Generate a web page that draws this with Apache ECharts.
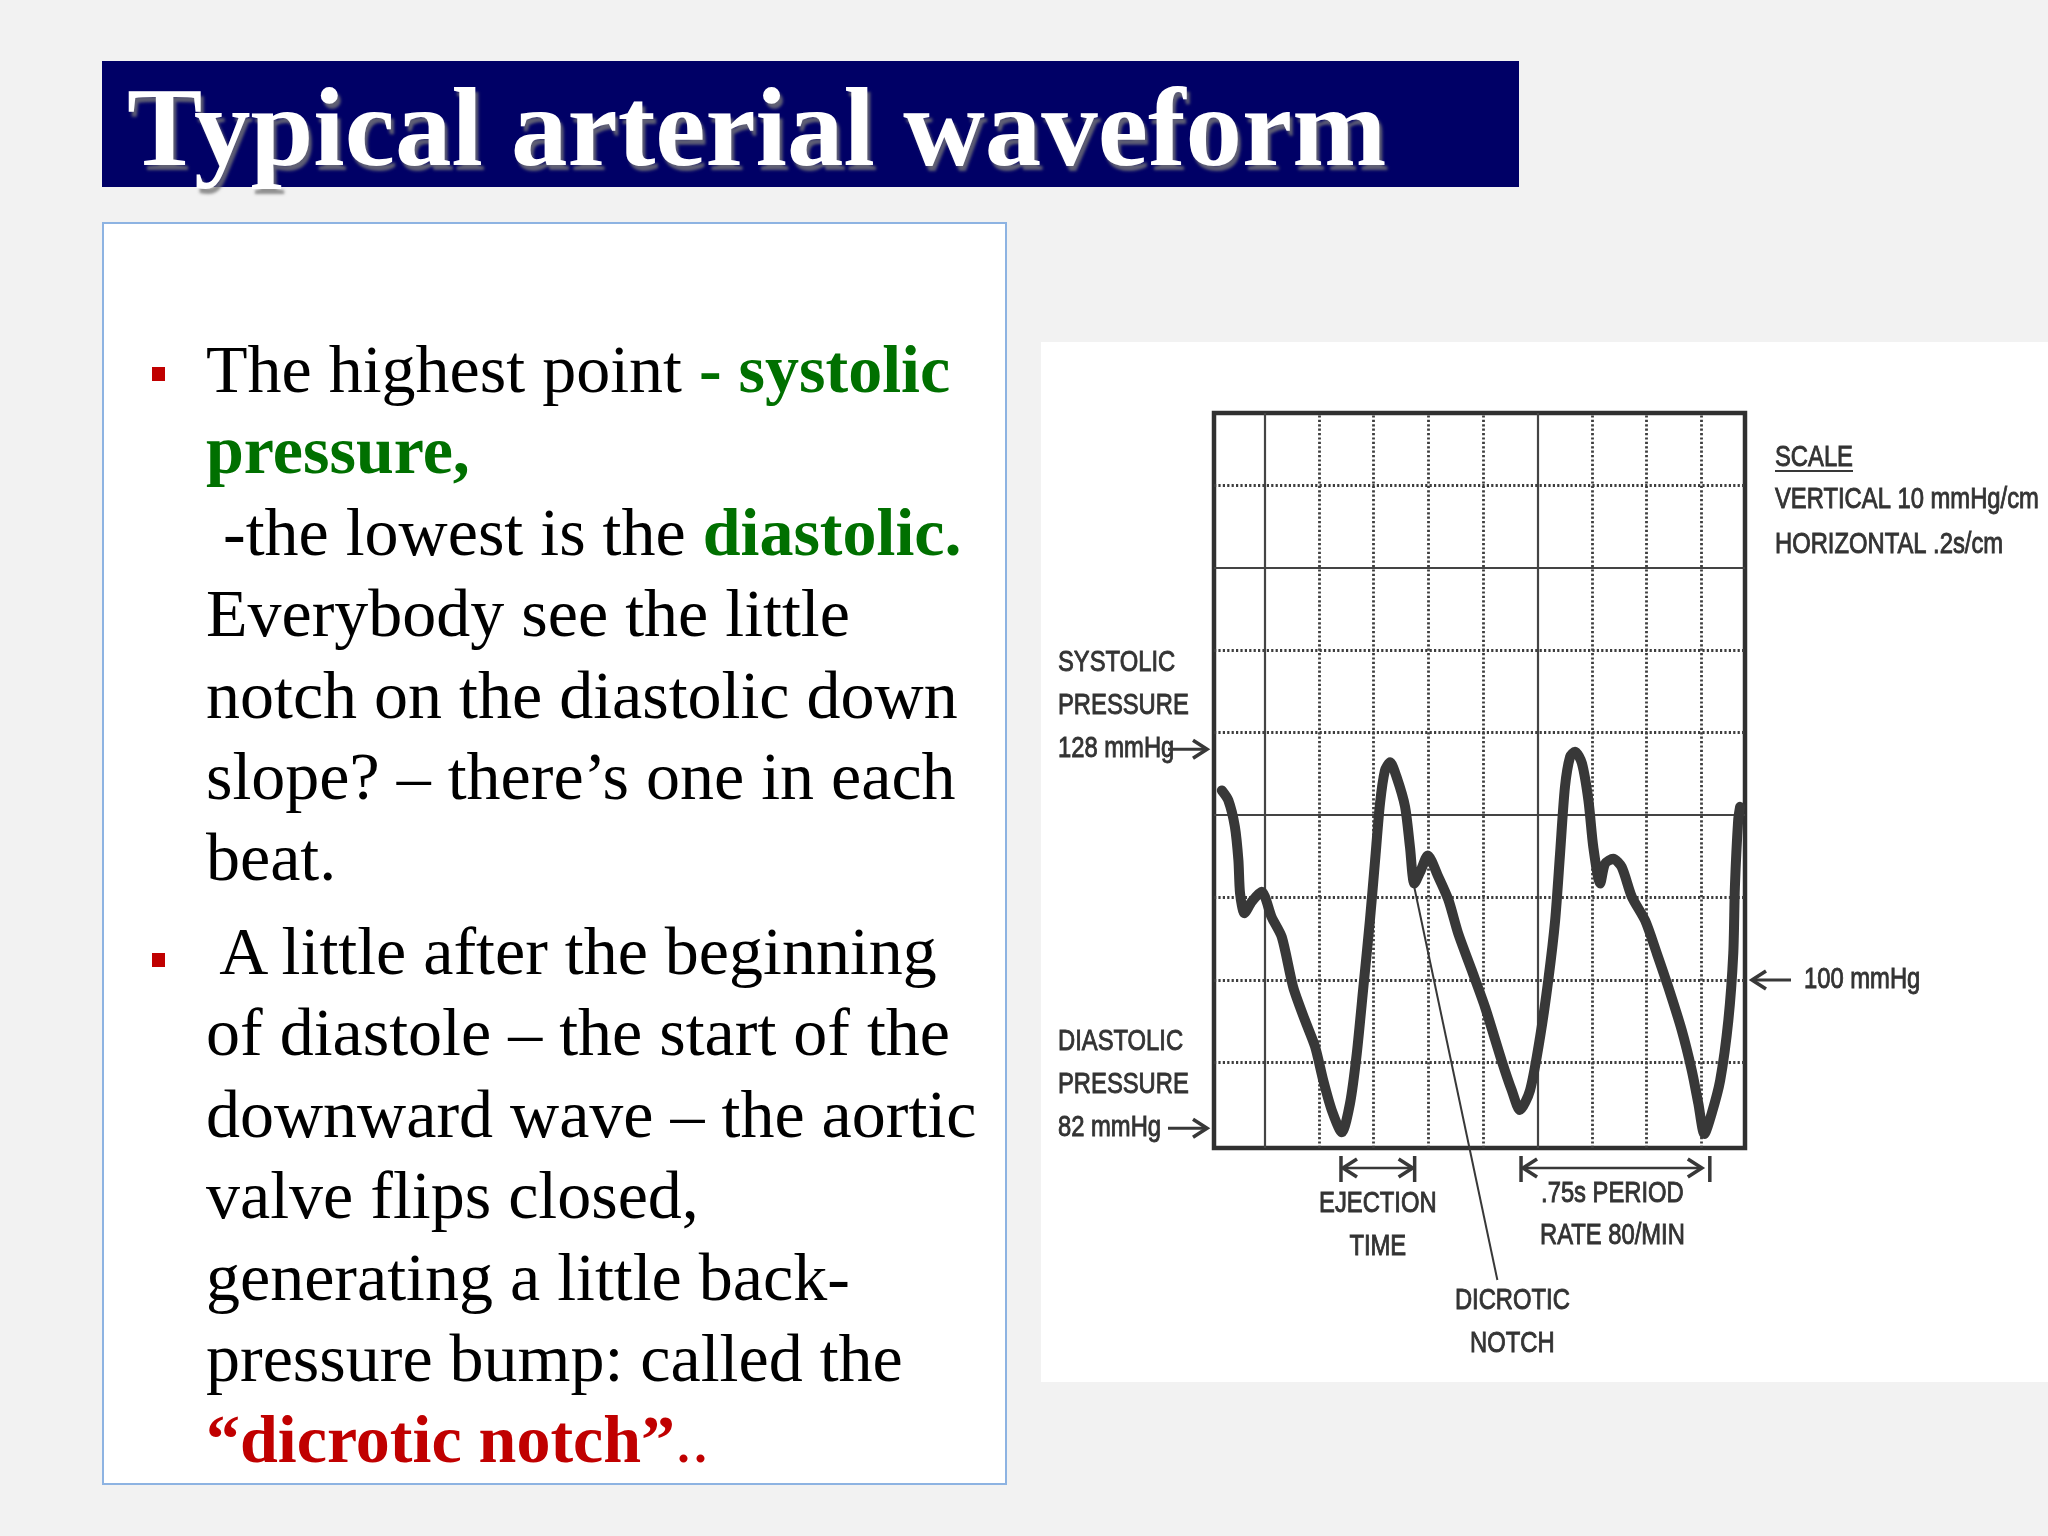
<!DOCTYPE html>
<html><head><meta charset="utf-8">
<script src="https://cdn.jsdelivr.net/npm/echarts@6/dist/echarts.min.js"></script>
<style>
html,body{margin:0;padding:0;background:#f2f2f2;}
#slide{position:relative;width:2048px;height:1536px;overflow:hidden;background:#f2f2f2;}
#titlebar{position:absolute;left:102px;top:61px;width:1417px;height:126px;background:#000066;}
#title{position:absolute;left:127px;top:70px;font-family:'Liberation Serif','Times New Roman',serif;font-weight:bold;font-size:113px;line-height:113px;color:#fff;white-space:pre;text-shadow:3px 5px 3px rgba(120,120,120,0.8);}
#textbox{position:absolute;left:102px;top:222px;width:905px;height:1263px;background:#fff;border:2px solid #8db3e2;box-sizing:border-box;}
.para{position:absolute;left:206px;font-family:'Liberation Serif','Times New Roman',serif;font-size:68px;line-height:81.4px;color:#000;white-space:pre;}
.g{color:#007000;font-weight:bold;}
.r{color:#c00000;font-weight:bold;}
.rd{color:#c00000;}
.bullet{position:absolute;left:152px;width:13px;height:14px;background:#c00000;}
#chart{position:absolute;left:1041px;top:342px;width:1007px;height:1040px;background:#fff;}
</style></head>
<body>
<div id="slide">
  <div id="titlebar"></div>
  <div id="title">Typical arterial waveform</div>
  <div id="textbox"></div>
  <div class="bullet" style="top:367px"></div>
  <div class="para" style="top:329px">The highest point <span class="g">- systolic</span>
<span class="g">pressure,</span>
 -the lowest is the <span class="g">diastolic.</span>
Everybody see the little
notch on the diastolic down
slope? – there’s one in each
beat.</div>
  <div class="bullet" style="top:953px"></div>
  <div class="para" style="top:911px"> A little after the beginning
of diastole – the start of the
downward wave – the aortic
valve flips closed,
generating a little back-
pressure bump: called the
<span class="r">“dicrotic notch”</span><span class="rd">..</span></div>
  <div id="chart"></div>
</div>
<script>
// ---- data ----
const timeS = [-0.157,-0.133,-0.109,-0.096,-0.090,-0.074,-0.047,-0.011,0.026,0.063,0.105,0.148,0.185,0.215,0.246,0.283,0.313,0.338,0.362,0.386,0.405,0.423,0.441,0.460,0.484,0.515,0.533,0.549,0.573,0.598,0.637,0.674,0.710,0.759,0.808,0.869,0.906,0.936,0.973,1.010,1.040,1.065,1.083,1.101,1.120,1.138,1.163,1.187,1.205,1.230,1.248,1.278,1.309,1.346,1.395,1.438,1.480,1.529,1.566,1.590,1.612,1.639,1.670,1.700,1.718,1.724,1.736,1.743];
const pressure = [123.0,121.8,118.6,114.5,110.5,108.1,109.5,110.7,107.6,105.2,99.1,95.1,91.9,87.8,84.2,81.5,85.0,91.1,99.1,107.2,114.5,121.4,125.4,126.4,124.6,121.0,116.1,111.7,113.3,115.1,112.5,109.7,105.6,101.2,96.7,90.2,86.6,84.2,86.6,93.1,100.0,107.2,115.3,123.4,127.1,127.7,126.3,121.8,116.1,111.7,114.1,114.7,113.7,110.1,107.2,103.2,99.1,93.9,89.0,85.0,81.3,83.8,87.8,95.1,103.2,111.3,119.4,121.0];
const vGridTicks = [0,0.2,0.4,0.6,0.8,1.0,1.2,1.4,1.6];
const vGridSolid = [0,1.0];
const hGridTicks = [90,100,110,120,130,140,150,160];
const hGridSolid = [120,150];
const xRange = [-0.1855, 1.761];
const yRange = [79.6, 168.8];
const systolicMark = 128, diastolicMark = 82, refMark = 100;
const ejectionSpan = [0.28, 0.55];
const periodSpan = [0.94, 1.61];
const notchPoint = [0.549, 111.7];
const leftLabels = [['SYSTOLIC','PRESSURE','128 mmHg'],['DIASTOLIC','PRESSURE','82 mmHg']];
const scaleLabels = ['SCALE','VERTICAL 10 mmHg/cm','HORIZONTAL .2s/cm'];
const refLabel = '100 mmHg';
const ejectionLabels = ['EJECTION','TIME'];
const periodLabels = ['.75s PERIOD','RATE 80/MIN'];
const notchLabels = ['DICROTIC','NOTCH'];

// ---- chart ----
const chart = echarts.init(document.getElementById('chart'));
const waveData = timeS.map((t,i)=>[t, pressure[i]]);
const ink = '#383838';
const solidStyle = {type:'solid', color:'#444', width:2.2};
const dotStyle = {type:[2.2,2.2], color:'#3e3e3e', width:2.8};
const gridMarks = [];
vGridTicks.forEach(v=>gridMarks.push({xAxis:v, lineStyle: vGridSolid.includes(v)?solidStyle:dotStyle}));
hGridTicks.forEach(v=>gridMarks.push({yAxis:v, lineStyle: hGridSolid.includes(v)?solidStyle:dotStyle}));

const G = {left:173, top:71, width:531, height:735};
chart.setOption({
  animation:false,
  backgroundColor:'#ffffff',
  grid:{left:G.left, top:G.top, width:G.width, height:G.height, show:true, borderColor:'#303030', borderWidth:4.5, backgroundColor:'transparent'},
  xAxis:{type:'value', min:xRange[0], max:xRange[1], axisLine:{show:false}, axisTick:{show:false}, axisLabel:{show:false}, splitLine:{show:false}},
  yAxis:{type:'value', min:yRange[0], max:yRange[1], axisLine:{show:false}, axisTick:{show:false}, axisLabel:{show:false}, splitLine:{show:false}},
  series:[
    {type:'line', data:waveData, z:1, silent:true, symbol:'none', lineStyle:{opacity:0},
     markLine:{silent:true, symbol:['none','none'], label:{show:false}, animation:false, data:gridMarks}},
    {type:'line', data:waveData, z:5, silent:true, symbol:'none', smooth:0.25,
     lineStyle:{color:ink, width:10, cap:'round', join:'round'}}
  ]
});

const P = (x,y)=>chart.convertToPixel({gridIndex:0},[x,y]);
const gl = G.left, gr = G.left+G.width, gb = G.top+G.height;
const els = [];
const FONT = '29px "Liberation Sans", Arial, sans-serif';
const TXT = '#333333';
function txt(x,y,s,align){
  els.push({type:'text', x:x, y:y, scaleX:0.82, silent:true, z:10,
    style:{text:s, fill:TXT, stroke:TXT, lineWidth:0.9, font:FONT, textAlign:align||'left', align:align||'left', textVerticalAlign:'middle', verticalAlign:'middle'}});
}
function seg(x1,y1,x2,y2,w){
  els.push({type:'line', silent:true, z:10, shape:{x1,y1,x2,y2}, style:{stroke:ink, lineWidth:w||2.5}});
}
function head(tx,ty,dir,len,half){
  len = len||14; half = half||9;
  els.push({type:'polyline', silent:true, z:10, shape:{points:[[tx-dir*len,ty-half],[tx,ty],[tx-dir*len,ty+half]]}, style:{stroke:ink, lineWidth:3.6, fill:null}});
}
// left labels with arrows to systolic / diastolic values
[[systolicMark,leftLabels[0]],[diastolicMark,leftLabels[1]]].forEach(([v,lab])=>{
  const y = P(0,v)[1];
  txt(17, y-86, lab[0]); txt(17, y-43, lab[1]); txt(17, y, lab[2]);
  seg(gl-46, y, gl-7, y, 3); head(gl-7, y, 1);
});
// right 100 mmHg arrow
{
  const y = P(0,refMark)[1];
  seg(gr+7, y, gr+46, y, 3); head(gr+7, y, -1);
  txt(gr+59, y, refLabel);
}
// scale block
txt(734,116,scaleLabels[0]); txt(734,158,scaleLabels[1]); txt(734,203,scaleLabels[2]);
seg(734,129,812,129,2.2);
// brackets
const by = gb+20;
function bracket(a,b,gapR){
  const xa = P(a,0)[0], xb = P(b,0)[0];
  seg(xa, by-12, xa, by+14, 3.5); seg(xb+(gapR||0), by-12, xb+(gapR||0), by+14, 3.5);
  seg(xa+2, by, xb-2, by, 2.4);
  head(xa+2, by, -1, 14, 9); head(xb-2, by, 1, 14, 9);
  return [xa,xb];
}
const ej = bracket(ejectionSpan[0], ejectionSpan[1], 0);
txt((ej[0]+ej[1])/2, by+36, ejectionLabels[0], 'center');
txt((ej[0]+ej[1])/2, by+79, ejectionLabels[1], 'center');
const pe = bracket(periodSpan[0], periodSpan[1], 6);
txt((pe[0]+pe[1])/2, by+26, periodLabels[0], 'center');
txt((pe[0]+pe[1])/2, by+68, periodLabels[1], 'center');
// dicrotic notch pointer
{
  const n = P(notchPoint[0], notchPoint[1]);
  seg(n[0], n[1]+4, n[0]+83, gb+132, 2);
  txt(n[0]+98, gb+153, notchLabels[0], 'center');
  txt(n[0]+98, gb+196, notchLabels[1], 'center');
}
chart.setOption({graphic:{elements:els}});
</script>
</body></html>
